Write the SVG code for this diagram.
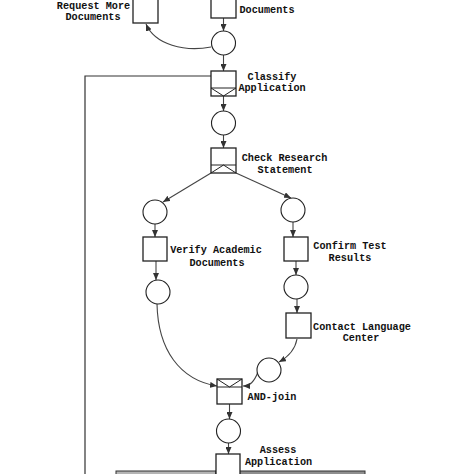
<svg xmlns="http://www.w3.org/2000/svg" width="474" height="474" viewBox="0 0 474 474">
<defs>
<marker id="ah" markerUnits="userSpaceOnUse" markerWidth="8" markerHeight="6" refX="7" refY="3" orient="auto">
<path d="M0,0 L7,3 L0,6 z" fill="#333"/>
</marker>
<style>
.t{fill:#fff;stroke:#222;stroke-width:1.3}
.p{fill:#fff;stroke:#222;stroke-width:1.1}
.d{fill:none;stroke:#222;stroke-width:1}
.c{fill:none;stroke:#444;stroke-width:1.1;marker-end:url(#ah)}
.l{fill:none;stroke:#333;stroke-width:1.2}
text{font-family:"Liberation Mono","Courier New",monospace;font-size:10.2px;font-weight:bold;fill:#111;text-anchor:middle}
</style>
</defs>
<rect width="474" height="474" fill="#fff"/>
<g id="bar">
<rect x="116" y="471" width="100" height="8" fill="#b4b4b4" stroke="#333" stroke-width="1"/>
<rect x="216" y="471" width="149" height="8" fill="#8e8e8e" stroke="#333" stroke-width="1"/>
</g>
<g id="connectors">
<line class="c" x1="223.5" y1="18" x2="223.5" y2="31"/>
<path class="c" d="M211,47 C185,52 155,45 146,24"/>
<line class="c" x1="223.5" y1="55" x2="223.5" y2="71"/>
<polyline class="l" points="211,76 85,76 85,480"/>
<line class="c" x1="223.5" y1="96" x2="223.5" y2="111"/>
<line class="c" x1="223.5" y1="135" x2="223.5" y2="148"/>
<line class="c" x1="211" y1="173" x2="163" y2="202"/>
<line class="c" x1="236" y1="173" x2="291" y2="198"/>
<line class="c" x1="155" y1="224" x2="155" y2="237"/>
<line class="c" x1="156" y1="261" x2="156" y2="280"/>
<line class="c" x1="293" y1="222" x2="293" y2="237"/>
<line class="c" x1="296" y1="261" x2="296" y2="275"/>
<line class="c" x1="297" y1="299" x2="297" y2="313"/>
<path class="c" d="M297,339 C295,350 288,357 279,362"/>
<path class="c" d="M258,372 C254,382 250,386 243,386"/>
<path class="c" d="M157,304 C158,350 180,380 217,386"/>
<line class="c" x1="229.5" y1="404" x2="229.5" y2="419"/>
<line class="c" x1="228.5" y1="443" x2="228.5" y2="454"/>
</g>
<g id="request_more">
<rect class="t" x="133" y="-5" width="25" height="28"/>
<text x="93.5" y="8.5">Request More</text>
<text x="93" y="20">Documents</text>
</g>
<g id="documents">
<rect class="t" x="211" y="-5" width="25" height="23"/>
<text x="267" y="13">Documents</text>
</g>
<g id="p1"><circle class="p" cx="223.5" cy="43" r="12"/></g>
<g id="classify">
<rect class="t" x="211" y="71" width="25" height="25"/>
<line class="d" x1="211" y1="88" x2="236" y2="88"/>
<polyline class="d" points="211,88 223.5,96 236,88"/>
<text x="272" y="79.5">Classify</text>
<text x="272" y="91">Application</text>
</g>
<g id="p2"><circle class="p" cx="223.5" cy="123" r="12"/></g>
<g id="check">
<rect class="t" x="211" y="148" width="25" height="25"/>
<line class="d" x1="211" y1="165" x2="236" y2="165"/>
<polyline class="d" points="211,173 223.5,165 236,173"/>
<text x="284.5" y="161">Check Research</text>
<text x="285" y="172.5">Statement</text>
</g>
<g id="pL1"><circle class="p" cx="155" cy="212" r="12"/></g>
<g id="pR1"><circle class="p" cx="293" cy="210" r="12"/></g>
<g id="verify">
<rect class="t" x="143" y="237" width="24" height="24"/>
<text x="216" y="252.5">Verify Academic</text>
<text x="217" y="265.5">Documents</text>
</g>
<g id="confirm">
<rect class="t" x="284" y="237" width="24" height="24"/>
<text x="350" y="248.5">Confirm Test</text>
<text x="350" y="260.5">Results</text>
</g>
<g id="pL2"><circle class="p" cx="158" cy="292" r="12"/></g>
<g id="pR2"><circle class="p" cx="296" cy="287" r="12"/></g>
<g id="contact">
<rect class="t" x="286" y="313" width="25" height="25"/>
<text x="362" y="330">Contact Language</text>
<text x="361" y="341">Center</text>
</g>
<g id="pR3"><circle class="p" cx="269" cy="370" r="12"/></g>
<g id="andjoin">
<rect class="t" x="217" y="379" width="25" height="25"/>
<line class="d" x1="217" y1="387" x2="242" y2="387"/>
<polyline class="d" points="217,379 229.5,387 242,379"/>
<text x="272" y="400">AND-join</text>
</g>
<g id="p3"><circle class="p" cx="228.5" cy="431" r="12"/></g>
<g id="assess">
<rect class="t" x="216" y="454" width="24" height="26"/>
<text x="278" y="452.5">Assess</text>
<text x="278.5" y="465">Application</text>
</g>
</svg>
